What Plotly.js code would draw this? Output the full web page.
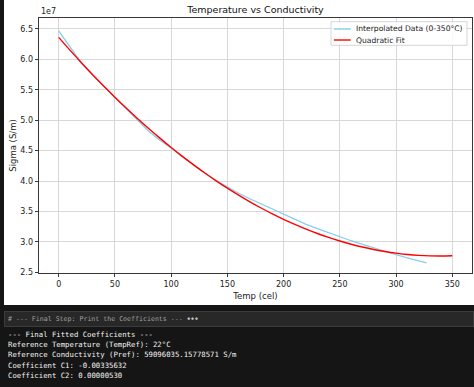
<!DOCTYPE html>
<html>
<head>
<meta charset="utf-8">
<script src="https://cdn.plot.ly/plotly-3.0.1.min.js"></script>
<style>
  html, body { margin:0; padding:0; background:#151515; width:474px; height:387px; overflow:hidden; }
  #chart { position:absolute; left:4px; top:0; width:470px; height:305px; background:#fff; }
  #cellhead { position:absolute; left:4px; top:311px; width:470px; height:16px; background:#282828; border:1px solid #3c3c3c; box-sizing:border-box; }
  #cellhead span { position:absolute; left:3px; top:2px; font-family:"DejaVu Sans Mono", monospace; font-size:6.6px; line-height:10px; color:#a0a0a0; white-space:pre; }
  #out { position:absolute; left:8px; top:330px; font-family:"DejaVu Sans Mono", monospace; font-size:7.3px; line-height:10.2px; color:#f2f2f2; white-space:pre; }
</style>
</head>
<body>
<div id="chart"></div>
<div id="cellhead"><span># --- Final Step: Print the Coefficients --- <b style="color:#c8c8c8">•••</b></span></div>
<div id="out"></div>
<script>
// Interpolated data (light blue)
const interpTemp = [0,10,20,30,40,50,60,70,80,90,100,110,120,130,140,150,160,170,180,190,200,210,220,230,240,250,260,270,280,290,300,310,320,327];
const interpSigma = [6.47e7,6.20e7,5.945e7,5.745e7,5.56e7,5.365e7,5.175e7,5.0e7,4.82e7,4.67e7,4.545e7,4.40e7,4.26e7,4.13e7,4.01e7,3.905e7,3.80e7,3.71e7,3.625e7,3.54e7,3.45e7,3.37e7,3.29e7,3.22e7,3.15e7,3.085e7,3.02e7,2.96e7,2.90e7,2.84e7,2.79e7,2.74e7,2.69e7,2.655e7];
// Quadratic fit (red)
const fitTemp = [0,10,20,30,40,50,60,70,80,90,100,110,120,130,140,150,160,170,180,190,200,210,220,230,240,250,260,270,280,290,300,310,320,330,340,350];
const fitSigma = [6.361e7,6.152e7,5.949e7,5.753e7,5.563e7,5.379e7,5.201e7,5.030e7,4.865e7,4.706e7,4.553e7,4.407e7,4.267e7,4.133e7,4.005e7,3.884e7,3.769e7,3.660e7,3.558e7,3.461e7,3.371e7,3.288e7,3.210e7,3.139e7,3.074e7,3.016e7,2.963e7,2.917e7,2.877e7,2.844e7,2.816e7,2.795e7,2.780e7,2.772e7,2.770e7,2.7735e7];
// Series names and colours
const seriesNames = ['Interpolated Data (0-350°C)', 'Quadratic Fit'];
const seriesColors = ['#87ceeb', '#ff0000'];
// Axis ticks
const xTicks = [0,50,100,150,200,250,300,350];
const yTickVals = [2.5e7,3.0e7,3.5e7,4.0e7,4.5e7,5.0e7,5.5e7,6.0e7,6.5e7];
const yTickText = ["2.5","3.0","3.5","4.0","4.5","5.0","5.5","6.0","6.5"];
// Output text
const outputLines = [
  "--- Final Fitted Coefficients ---",
  "Reference Temperature (TempRef): 22°C",
  "Reference Conductivity (Pref): 59096035.15778571 S/m",
  "Coefficient C1: -0.00335632",
  "Coefficient C2: 0.00000530"
];
document.getElementById('out').textContent = outputLines.join('\n');

const font = "DejaVu Sans, sans-serif";
const traces = [
  { x: interpTemp, y: interpSigma, mode: 'lines', name: seriesNames[0],
    line: { color: seriesColors[0], width: 1.3 } },
  { x: fitTemp, y: fitSigma, mode: 'lines', name: seriesNames[1],
    line: { color: seriesColors[1], width: 1.4, shape: 'spline' } }
];
const axisCommon = {
  showline: true, mirror: true, linecolor: '#222', linewidth: 0.9,
  ticks: 'outside', ticklen: 3.5, tickwidth: 0.9, tickcolor: '#222',
  showgrid: true, gridcolor: '#d4d4d4', gridwidth: 0.9, zeroline: false,
  tickfont: { family: font, size: 8, color: '#222' }
};
// Custom matplotlib-style legend (paper coordinates)
const lg = { x0: 0.6744, x1: 0.9885, y0: 0.8929, y1: 0.9855, lx0: 0.681, lx1: 0.720, tx: 0.7298, ys: [0.9569, 0.9137] };
const shapes = [
  { type: 'rect', xref: 'paper', yref: 'paper', x0: lg.x0, x1: lg.x1, y0: lg.y0, y1: lg.y1,
    fillcolor: 'rgba(255,255,255,0.85)', line: { color: '#cccccc', width: 0.8 } }
];
const annotations = [
  { text: '1e7', xref: 'paper', yref: 'paper', x: 0, y: 1, xanchor: 'left', yanchor: 'bottom',
    showarrow: false, font: { family: font, size: 8, color: '#222' } }
];
seriesNames.forEach((nm, i) => {
  shapes.push({ type: 'line', xref: 'paper', yref: 'paper', x0: lg.lx0, x1: lg.lx1, y0: lg.ys[i], y1: lg.ys[i],
    line: { color: seriesColors[i], width: 1.4 } });
  annotations.push({ text: nm, xref: 'paper', yref: 'paper', x: lg.tx, y: lg.ys[i], xanchor: 'left', yanchor: 'middle',
    showarrow: false, font: { family: font, size: 7.6, color: '#222' }, borderpad: 0 });
});
const layout = {
  width: 470, height: 305,
  margin: { l: 35, r: 2, t: 18, b: 32, pad: 0 },
  paper_bgcolor: '#fff', plot_bgcolor: '#fff',
  showlegend: false,
  title: { text: 'Temperature vs Conductivity', font: { family: font, size: 9.5, color: '#111' },
           x: 0.5, xref: 'paper', y: 1, yref: 'container', yanchor: 'top', pad: { t: 6 } },
  xaxis: Object.assign({}, axisCommon, {
    range: [-17.5, 367.5], tickvals: xTicks, ticktext: xTicks.map(String),
    title: { text: 'Temp (cel)', font: { family: font, size: 8.5, color: '#222' }, standoff: 4 }
  }),
  yaxis: Object.assign({}, axisCommon, {
    range: [2.49e7, 6.68e7], tickvals: yTickVals, ticktext: yTickText,
    title: { text: 'Sigma (S/m)', font: { family: font, size: 8.5, color: '#222' }, standoff: 2 }
  }),
  shapes: shapes,
  annotations: annotations
};
Plotly.newPlot('chart', traces, layout, { displayModeBar: false, staticPlot: true });
</script>
</body>
</html>
